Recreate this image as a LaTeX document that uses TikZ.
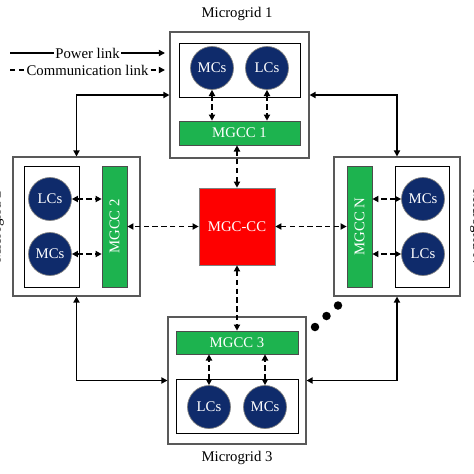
\documentclass[tikz,border=0pt]{standalone}
\usepackage{fontspec}
\setmainfont{Liberation Serif}
\usetikzlibrary{arrows.meta, positioning, calc}
\definecolor{mgblue}{RGB}{15,43,107}
\definecolor{mggreen}{RGB}{29,179,79}
\definecolor{mgred}{RGB}{254,0,0}
\tikzset{
  gridbox/.style={draw=black!65, line width=0.6pt, inner sep=0pt},
  loadbox/.style={draw=black, line width=0.5pt, inner sep=0pt},
  ctrl/.style={draw=black!70, fill=mggreen, text=white, inner sep=0pt, line width=0.4pt},
  unit/.style={circle, draw=black!50, fill=mgblue, text=white, minimum size=0.86cm, inner sep=0pt},
  power/.style={line width=0.85pt, {Triangle[length=3.5pt,width=3.5pt]}-{Triangle[length=3.5pt,width=3.5pt]}},
  comm/.style={line width=0.85pt, dash pattern=on 3pt off 2pt, {Triangle[length=3.5pt,width=3.5pt]}-{Triangle[length=3.5pt,width=3.5pt]}},
}
\begin{document}
\begin{tikzpicture}[x=0.02cm, y=-0.02cm, font=\fontsize{8.4}{10}\selectfont]
        \useasboundingbox (0,0) rectangle (474,474);
        \clip (0,0) rectangle (474,474);

        % legend
        \coordinate (powera) at (10,53);
        \coordinate (powerb) at (165,53);
        \coordinate (comma) at (10,70);
        \coordinate (commb) at (165,70);
        \draw[line width=0.85pt, -{Triangle[length=3.5pt,width=3.5pt]}] (powera) -- (powerb)
            node[midway, fill=white, inner sep=0.8pt] (powertext) {Power link};
        \draw[line width=0.85pt, dash pattern=on 3pt off 2pt, -{Triangle[length=3.5pt,width=3.5pt]}] (comma) -- (commb)
            node[midway, fill=white, inner sep=0.8pt] (commtext) {Communication link};

        % Microgrid 1
        \node[gridbox, minimum width=2.78cm, minimum height=2.52cm] at (239.5,95) (mgone) {};
        \node at (237,14) (titleone) {Microgrid 1};
        \node[loadbox, minimum width=2.42cm, minimum height=1.08cm] at (239.5,70) (loadone) {};
        \node[unit] at (212,68) (mcsone) {MCs};
        \node[unit] at (267,68) (lcsone) {LCs};
        \node[ctrl, minimum width=2.42cm, minimum height=0.48cm] at (239.5,133) (mgccone) {MGCC 1};
        \draw[comm] (mcsone) -- (mcsone |- mgccone.north);
        \draw[comm] (lcsone) -- (lcsone |- mgccone.north);

        % Microgrid 2
        \node[gridbox, minimum width=2.54cm, minimum height=2.78cm] at (76.5,226.5) (mgtwo) {};
        \node[rotate=90] at (-3,227) (titletwo) {Microgrid 2};
        \node[loadbox, minimum width=1.1cm, minimum height=2.42cm] at (51.5,226.5) (loadtwo) {};
        \node[unit] at (50,199) (lcstwo) {LCs};
        \node[unit] at (50,254) (mcstwo) {MCs};
        \node[ctrl, minimum width=0.5cm, minimum height=2.42cm] at (114.5,226.5) (mgcctwo) {\rotatebox{90}{MGCC 2}};
        \draw[comm] (lcstwo) -- (lcstwo -| mgcctwo.west);
        \draw[comm] (mcstwo) -- (mcstwo -| mgcctwo.west);

        % Microgrid N
        \node[gridbox, minimum width=2.52cm, minimum height=2.78cm] at (397,226.5) (mgn) {};
        \node[rotate=-90] at (477,227) (titlen) {Microgrid N};
        \node[loadbox, minimum width=1.08cm, minimum height=2.42cm] at (422,226.5) (loadn) {};
        \node[unit] at (423,199) (mcsn) {MCs};
        \node[unit] at (423,254) (lcsn) {LCs};
        \node[ctrl, minimum width=0.5cm, minimum height=2.42cm] at (359.5,226.5) (mgccn) {\rotatebox{90}{MGCC N}};
        \draw[comm] (mcsn) -- (mcsn -| mgccn.east);
        \draw[comm] (lcsn) -- (lcsn -| mgccn.east);

        % Microgrid 3
        \node[gridbox, minimum width=2.76cm, minimum height=2.54cm] at (237,380.5) (mgthree) {};
        \node at (237,458) (titlethree) {Microgrid 3};
        \node[ctrl, minimum width=2.44cm, minimum height=0.46cm] at (237,342.5) (mgccthree) {MGCC 3};
        \node[loadbox, minimum width=2.44cm, minimum height=1.08cm] at (237,406) (loadthree) {};
        \node[unit] at (209,407) (lcsthree) {LCs};
        \node[unit] at (265,407) (mcsthree) {MCs};
        \draw[comm] (lcsthree) -- (lcsthree |- mgccthree.south);
        \draw[comm] (mcsthree) -- (mcsthree |- mgccthree.south);

        % central controller
        \node[draw=black!50, fill=mgred, text=white, minimum width=1.52cm, minimum height=1.54cm, inner sep=0pt] at (237,226.5) (mgccc) {MGC-CC};
        \draw[comm] (mgccc.north) -- (mgccc.north |- mgccone.south);
        \draw[comm] (mgccc.south) -- (mgccc.south |- mgccthree.north);
        \draw[comm] (mgccc) -- (mgcctwo);
        \draw[comm] (mgccc) -- (mgccn);

        % power links
        \draw[power] (mgone.west) -| (mgtwo.north);
        \draw[power] (mgone.east) -| (mgn.north);
        \draw[power] (mgtwo.south) |- (mgthree.west);
        \draw[power] (mgn.south) |- (mgthree.east);

        % more microgrids
        \node[circle, fill, minimum size=0.17cm, inner sep=0pt] at (315,327) (dotone) {};
        \node[circle, fill, minimum size=0.17cm, inner sep=0pt] at (326.5,316) (dottwo) {};
        \node[circle, fill, minimum size=0.17cm, inner sep=0pt] at (338,305.5) (dotthree) {};
    \end{tikzpicture}
\end{document}
